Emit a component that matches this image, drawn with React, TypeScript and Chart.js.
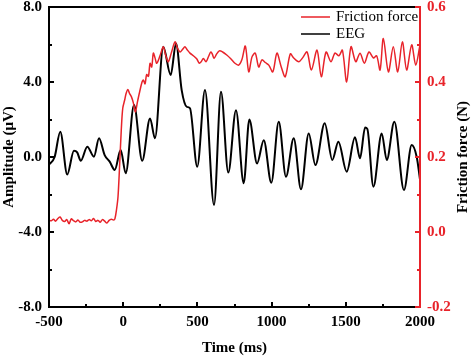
import React, { useEffect, useRef } from "react";
import { Chart, registerables } from "chart.js";

Chart.register(...registerables);

const RED = "#e8232a";
const FONT = "'Liberation Serif', 'DejaVu Serif', serif";

const xTicks = [-500, 0, 500, 1000, 1500, 2000];
const leftTicks = [-8, -4, 0, 4, 8];
const rightTicks = [-0.2, 0, 0.2, 0.4, 0.6];

const eegTime = [
  -500, -462, -424, -377, -332, -310, -286, -242, -197, -163, -125, -91, -57, -17, 17, 73, 128, 181, 214, 270,
  320, 356, 394, 428, 450, 499, 551, 612, 659, 708, 760, 812, 850, 902, 947, 998, 1048, 1097, 1149, 1198,
  1250, 1295, 1358, 1409, 1450, 1506, 1562, 1596, 1630, 1645, 1686, 1742, 1776, 1827, 1892, 1944, 1978, 2000,
];
const eegAmp = [
  -0.4, 0.0, 1.35, -0.93, 0.34, 0.25, -0.2, 0.55, 0.02, 1.0, 0.1, -0.25, -0.69, 0.37, -0.87, 2.77, -0.2, 2.06, 1.0, 5.88,
  4.37, 6.06, 3.57, 2.68, 2.6, -0.52, 3.57, -2.56, 3.48, -0.83, 2.5, -1.4, 2.0, -0.34, 0.9, -1.37, 1.88, -1.05, 1.0, -1.72,
  1.26, -0.43, 1.8, -0.16, 0.82, -0.78, 1.05, -0.07, 1.57, 1.5, -1.58, 1.26, -0.16, 1.88, -1.76, 0.64, 0.0, -1.2,
];

const fricTime = [
  -500, -485, -470, -455, -440, -425, -410, -395, -380, -365, -350, -335, -320, -305, -290, -275, -260, -245, -230, -215,
  -200, -185, -170, -155, -140, -125, -110, -95, -80, -65, -56, -45, -35, -25, -13, -3, 10, 20, 32, 42,
  55, 68, 82, 95, 111, 127, 136, 147, 158, 170, 181, 192, 203, 214, 226, 248, 270, 287, 304, 326,
  349, 366, 383, 400, 416, 433, 450, 473, 495, 513, 527, 540, 558, 575, 590, 600, 612, 630, 648, 670,
  698, 725, 753, 778, 800, 823, 846, 868, 890, 913, 935, 958, 981, 1008, 1036, 1065, 1092, 1126, 1149, 1183,
  1210, 1239, 1268, 1306, 1335, 1367, 1400, 1427, 1454, 1477, 1506, 1535, 1567, 1596, 1625, 1656, 1686, 1708, 1731, 1753,
  1787, 1820, 1850, 1881, 1910, 1944, 1971, 2000,
];
const fricForce = [
  0.032, 0.03, 0.034, 0.029, 0.036, 0.04, 0.031, 0.028, 0.033, 0.022, 0.035, 0.03, 0.027, 0.032, 0.026, 0.027, 0.031, 0.029, 0.033, 0.03,
  0.036, 0.028, 0.031, 0.026, 0.033, 0.029, 0.024, 0.031, 0.034, 0.032, 0.035, 0.06, 0.094, 0.17, 0.272, 0.33, 0.352, 0.37, 0.38, 0.37,
  0.361, 0.345, 0.32, 0.345, 0.374, 0.4, 0.405, 0.395, 0.42, 0.415, 0.45, 0.44, 0.477, 0.465, 0.45, 0.47, 0.494, 0.47, 0.454, 0.48,
  0.507, 0.49, 0.48, 0.487, 0.494, 0.485, 0.477, 0.47, 0.462, 0.45, 0.455, 0.463, 0.454, 0.468, 0.48, 0.475, 0.463, 0.475, 0.483, 0.48,
  0.472, 0.462, 0.45, 0.445, 0.46, 0.496, 0.427, 0.467, 0.477, 0.44, 0.459, 0.452, 0.445, 0.427, 0.477, 0.44, 0.414, 0.475, 0.464, 0.454,
  0.465, 0.48, 0.432, 0.485, 0.414, 0.48, 0.454, 0.477, 0.47, 0.485, 0.4, 0.494, 0.454, 0.477, 0.45, 0.48, 0.464, 0.47, 0.432, 0.516,
  0.427, 0.494, 0.427, 0.507, 0.432, 0.499, 0.445, 0.499,
];

const framePlugin = {
  id: "frame",
  afterDatasetsDraw(chart: any) {
    const { ctx, chartArea } = chart;
    const { left, right, top, bottom } = chartArea;
    const xs = chart.scales.x;
    const yl = chart.scales.y;
    const yr = chart.scales.y1;
    ctx.save();
    ctx.lineCap = "butt";
    ctx.lineWidth = 2;
    ctx.strokeStyle = "#000";
    ctx.beginPath();
    ctx.moveTo(left, top);
    ctx.lineTo(right, top);
    ctx.moveTo(left, top - 1);
    ctx.lineTo(left, bottom + 1);
    ctx.moveTo(left - 1, bottom);
    ctx.lineTo(right, bottom);
    ctx.stroke();
    ctx.beginPath();
    for (let v = -500; v <= 2000; v += 250) {
      const px = Math.round(xs.getPixelForValue(v));
      const len = v % 500 === 0 ? 5 : 3;
      ctx.moveTo(px, bottom);
      ctx.lineTo(px, bottom - len);
    }
    for (let v = -8; v <= 8; v += 2) {
      const py = Math.round(yl.getPixelForValue(v));
      const len = v % 4 === 0 ? 5 : 3;
      ctx.moveTo(left, py);
      ctx.lineTo(left + len, py);
    }
    ctx.stroke();
    ctx.strokeStyle = RED;
    ctx.beginPath();
    ctx.moveTo(right, top - 1);
    ctx.lineTo(right, bottom + 1);
    for (let i = -2; i <= 6; i++) {
      const py = Math.round(yr.getPixelForValue(i / 10));
      const len = i % 2 === 0 ? 5 : 3;
      ctx.moveTo(right, py);
      ctx.lineTo(right - len, py);
    }
    ctx.stroke();
    const lx = right - 119;
    ctx.lineWidth = 1.5;
    ctx.strokeStyle = RED;
    ctx.beginPath();
    ctx.moveTo(lx, top + 10);
    ctx.lineTo(lx + 29, top + 10);
    ctx.stroke();
    ctx.strokeStyle = "#000";
    ctx.beginPath();
    ctx.moveTo(lx, top + 27);
    ctx.lineTo(lx + 29, top + 27);
    ctx.stroke();
    ctx.fillStyle = "#000";
    ctx.font = `15px ${FONT}`;
    ctx.textAlign = "left";
    ctx.textBaseline = "middle";
    ctx.fillText("Friction force", lx + 35, top + 10);
    ctx.fillText("EEG", lx + 35, top + 27);
    ctx.font = `bold 15px ${FONT}`;
    ctx.textAlign = "center";
    ctx.translate(463, (top + bottom) / 2);
    ctx.rotate(-Math.PI / 2);
    ctx.fillText("Friction force (N)", 0, 0);
    ctx.restore();
  },
};

export default function App() {
  const ref = useRef<HTMLCanvasElement>(null);
  useEffect(() => {
    if (!ref.current) return;
    const tickFont = { family: FONT, size: 15, weight: "bold" as const };
    const noGrid = { display: false, drawTicks: false, drawOnChartArea: false };
    const chart = new Chart(ref.current, {
      type: "line",
      data: {
        datasets: [
          {
            label: "Friction force",
            data: fricTime.map((t, i) => ({ x: t, y: fricForce[i] })),
            borderColor: RED,
            borderWidth: 1.5,
            pointRadius: 0,
            tension: 0.3,
            yAxisID: "y1",
          },
          {
            label: "EEG",
            data: eegTime.map((t, i) => ({ x: t, y: eegAmp[i] })),
            borderColor: "#000",
            borderWidth: 2,
            pointRadius: 0,
            cubicInterpolationMode: "monotone",
            yAxisID: "y",
          },
        ],
      },
      options: {
        responsive: false,
        animation: false,
        layout: { padding: { top: 7, left: 0, right: 0, bottom: 0 } },
        plugins: { legend: { display: false }, tooltip: { enabled: false } },
        scales: {
          x: {
            type: "linear",
            min: -500,
            max: 2000,
            afterBuildTicks: (s: any) => {
              s.ticks = xTicks.map((v) => ({ value: v }));
            },
            afterFit: (s: any) => {
              s.height = 50;
              s.paddingLeft = 0;
              s.paddingRight = 0;
            },
            grid: noGrid,
            border: { display: false },
            ticks: { font: tickFont, color: "#000", padding: 6, maxRotation: 0, callback: (v: any) => String(v) },
            title: {
              display: true,
              text: "Time (ms)",
              font: { family: FONT, size: 15, weight: "bold" },
              color: "#000",
              padding: { top: 2, bottom: 0 },
            },
          },
          y: {
            type: "linear",
            position: "left",
            min: -8,
            max: 8,
            afterBuildTicks: (s: any) => {
              s.ticks = leftTicks.map((v) => ({ value: v }));
            },
            afterFit: (s: any) => {
              s.width = 49;
              s.paddingTop = 0;
              s.paddingBottom = 0;
            },
            grid: noGrid,
            border: { display: false },
            ticks: { font: tickFont, color: "#000", padding: 7, callback: (v: any) => Number(v).toFixed(1) },
            title: {
              display: true,
              text: "Amplitude (μV)",
              font: { family: FONT, size: 15, weight: "bold" },
              color: "#000",
              padding: { top: 0, bottom: 0 },
            },
          },
          y1: {
            type: "linear",
            position: "right",
            min: -0.2,
            max: 0.6,
            afterBuildTicks: (s: any) => {
              s.ticks = rightTicks.map((v) => ({ value: v }));
            },
            afterFit: (s: any) => {
              s.width = 54;
              s.paddingTop = 0;
              s.paddingBottom = 0;
            },
            grid: noGrid,
            border: { display: false },
            ticks: { font: tickFont, color: RED, padding: 7, callback: (v: any) => Number(v).toFixed(1) },
          },
        },
      },
      plugins: [framePlugin],
    });
    return () => chart.destroy();
  }, []);
  return (
    <div style={{ position: "fixed", left: 0, top: 0, width: 474, height: 357, background: "#fff" }}>
      <canvas ref={ref} width={474} height={357} />
    </div>
  );
}
